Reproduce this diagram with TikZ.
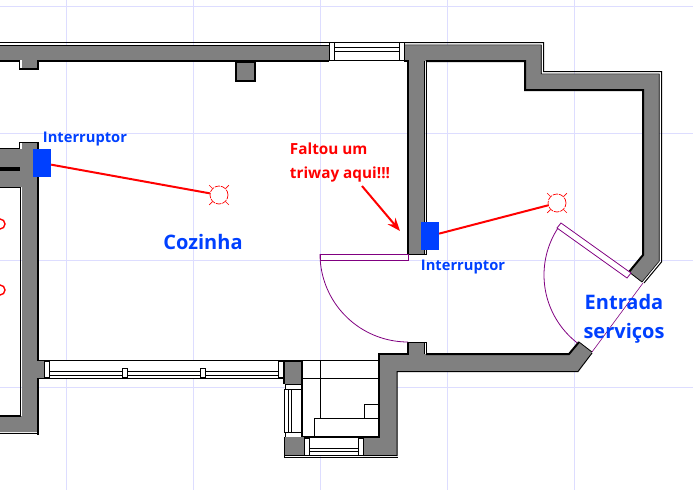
\documentclass[tikz,border=0pt]{standalone}
\usepackage{fontspec}
\setmainfont{Open Sans}
\usetikzlibrary{arrows.meta}

\definecolor{gridlila}{HTML}{DDDDFF}
\definecolor{wallgray}{HTML}{808080}
\definecolor{markblue}{HTML}{0040FF}
\definecolor{doorpurple}{HTML}{800080}

\tikzset{
  walla/.style={fill=wallgray,draw=none},
  wallthick/.style={draw=black,line width=2pt,line join=miter},
  wallthin/.style={draw=black,line width=1pt,line join=miter},
  glass/.style={draw=black,fill=white,line width=1pt},
  door/.style={draw=doorpurple,line width=0.8pt},
  switchbox/.style={fill=markblue,minimum width=18pt,minimum height=28pt,inner sep=0pt},
  lamp/.style={circle,draw=red,line width=0.7pt,dash pattern=on 5.5pt off 1pt,minimum size=18pt,inner sep=0pt},
  wire/.style={draw=red,line width=2pt},
  bluesmall/.style={text=markblue,font=\bfseries\fontsize{14.7}{16}\selectfont},
  bluebig/.style={text=markblue,font=\bfseries\fontsize{20}{29}\selectfont,align=center},
  redsmall/.style={text=red,font=\bfseries\fontsize{15.3}{24}\selectfont,align=left}
}

\begin{document}
\begin{tikzpicture}[x=1pt,y=-1pt]
  \useasboundingbox (0,0) rectangle (693,490);
  \clip (0,0) rectangle (693,490);
  % grid
  \foreach \gx in {66,193,320,447,574}
    \draw[gridlila,line width=1pt] (\gx,0) -- (\gx,490);
  \foreach \gy in {6,133,260,387}
    \draw[gridlila,line width=1pt] (0,\gy) -- (693,\gy);

  % walls, top and left
  \path[walla] (0,45) rectangle (329,60);
  \path[walla] (22,60) rectangle (38,68);
  \path[walla] (236,62) rectangle (255,81);
  \path[walla] (0,149) -- (22,149) -- (22,143) -- (38,143) -- (38,432) -- (0,432) -- (0,416)
    -- (22,416) -- (22,187) -- (0,187) -- cycle;
  \draw[wallthin] (0,42.5) -- (329,42.5);
  \draw[line width=0.6pt] (0,44.8) -- (329,44.8);
  \draw[wallthick] (0,61) -- (20,61);
  \draw[wallthick] (38,61) -- (329,61);
  \draw[wallthin] (19.5,61) -- (19.5,68.5);
  \draw[wallthick] (19,69) -- (38,69) -- (38,60);
  \draw[wallthick] (236,62) -- (236,81) -- (255,81) -- (255,62) -- cycle;
  \draw[wallthin] (0,148.5) -- (19.5,148.5) -- (19.5,142.5) -- (38,142.5);
  \draw[wallthick] (38,142) -- (38,361);
  \draw[wallthick] (38,378) -- (38,435);
  \fill[black] (0,167) rectangle (20,171);
  \draw[wallthin] (0,187.5) -- (20.5,187.5) -- (20.5,416);
  \draw[wallthick] (0,416) -- (21,416);
  \draw[wallthin] (0,433.5) -- (38,433.5);

  % walls, right side
  \path[walla] (404,45) -- (541.5,45) -- (541.5,74) -- (659,74) -- (659,261) -- (642,282)
    -- (629,272) -- (643,255) -- (643,90) -- (525,90) -- (525,61) -- (425,61) -- (425,254)
    -- (408,254) -- (408,61) -- (404,61) -- cycle;
  \draw[wallthin] (404,42.5) -- (543.5,42.5) -- (543.5,71.5) -- (661.5,71.5) -- (661.5,262) -- (644,283);
  \draw[line width=0.6pt] (404,44.8) -- (541.2,44.8) -- (541.2,73.8) -- (659.2,73.8) -- (659.2,261.2) -- (642,282);
  \draw[wallthick] (426,61) -- (525,61) -- (525,90) -- (643,90) -- (643,255) -- (629,272);
  \draw[line width=0.8pt] (629,272) -- (642,282);
  \draw[wallthick] (404,61) -- (408,61) -- (408,254);
  \draw[line width=0.7pt] (424.5,61) -- (424.5,254);
  \draw[wallthin] (426.5,61) -- (426.5,254.5) -- (408,254.5);

  % walls, bottom
  \path[walla] (397,371) -- (578,371) -- (592,352) -- (579,342) -- (569,354) -- (424,354)
    -- (424,342) -- (408,342) -- (408,354) -- (379,354) -- (379,437) -- (363,437) -- (363,456)
    -- (397,456) -- cycle;
  \draw[wallthick] (426,354) -- (569,354) -- (579,342);
  \draw[wallthin] (426.5,354) -- (426.5,342.5) -- (408,342.5);
  \draw[line width=0.7pt] (424.5,354) -- (424.5,342);
  \draw[wallthick] (408,342) -- (408,354) -- (379,354) -- (379,437) -- (302,437);
  \draw[line width=0.8pt] (579,342) -- (592,352);
  \draw[wallthin] (397,456) -- (397,371.5) -- (578,371.5) -- (592,353);
  \path[walla] (37,361) rectangle (44,379);
  \draw[line width=1.5pt] (37,360.5) -- (44,360.5);
  \draw[line width=1.5pt] (37,378.5) -- (44,378.5);

  % top window
  \draw[glass] (329,42.5) rectangle (404,60.5);
  \draw[wallthin] (334,47.5) -- (399,47.5);
  \draw[wallthin] (334,51.5) -- (399,51.5);
  \draw[glass] (329.5,42.5) rectangle (334.5,60.5);
  \draw[glass] (399.5,42.5) rectangle (404.5,60.5);

  % bottom window of the kitchen
  \draw[glass] (44,360.5) rectangle (284,378.5);
  \draw[wallthin] (49,371.5) -- (278,371.5);
  \draw[wallthin] (49,375.5) -- (278,375.5);
  \draw[glass] (44.5,361.5) rectangle (49.5,377.5);
  \draw[glass] (278.5,361.5) rectangle (283.5,377.5);
  \draw[glass] (122.5,368.5) rectangle (127.5,377.5);
  \draw[glass] (200.5,368.5) rectangle (205.5,377.5);

  % stair corner
  \fill[white] (303,362) rectangle (378,436);
  \draw[line width=1pt] (302,360.5) -- (379,360.5);
  \draw[line width=1pt] (302,378.5) -- (379,378.5);
  \draw[line width=1pt] (320.5,361) -- (320.5,418);
  \draw[line width=1pt] (314.5,437) -- (314.5,418.5) -- (379,418.5);
  \draw[line width=1pt] (364.5,418) -- (364.5,404.5) -- (379,404.5);

  % piers and side window
  \path[walla] (284,361) rectangle (302,384);
  \draw[wallthick] (284,384) -- (284,361) -- (302,361) -- (302,437);
  \draw[glass] (284.5,389) rectangle (301.5,432);
  \draw[wallthin] (288.5,389) -- (288.5,432);
  \draw[wallthin] (291.5,389) -- (291.5,432);
  \draw[glass] (285.5,384.5) rectangle (301.5,389.5);
  \draw[glass] (285.5,432.5) rectangle (301.5,437);
  \path[walla] (284,437) rectangle (304,455);
  \fill[white] (304,438) rectangle (363,456);
  \draw[wallthin] (309,448.5) -- (358,448.5);
  \draw[wallthin] (309,451.5) -- (358,451.5);
  \draw[glass] (304.5,438) rectangle (309.5,455.5);
  \draw[glass] (358.5,438) rectangle (363.5,455.5);
  \draw[wallthin] (284,437) -- (284,457.5) -- (397.5,457.5);
  \draw[line width=0.7pt] (284,455.5) -- (397,455.5);

  % doors
  \draw[door,line width=1pt,fill=white] (320.5,254.5) rectangle (408,260.5);
  \draw[door] plot[domain=90:180,samples=40] ({408+88*cos(\x)},{254+88*sin(\x)});
  \draw[door,fill=white] (561,223) -- (557,228) -- (627,278) -- (631,273) -- cycle;
  \draw[door] plot[domain=128:213,samples=40] ({630+86*cos(\x)},{275+86*sin(\x)});
  \draw[door,line width=0.6pt] (643,283) -- (592,352);

  % lamps cut by the border
  \draw[red,line width=1.4pt] (0,224) circle (5);
  \draw[red,line width=1.4pt] (0,290) circle (5);

  % switches, lamps, wires
  \node[switchbox] (switchA) at (42,163) {};
  \node[switchbox] (switchB) at (430,236) {};
  \node[lamp] (lampA) at (219,195) {};
  \node[lamp] (lampB) at (557,203) {};
  \foreach \lname in {lampA,lampB}
    \foreach \ang in {45,135,225,315}
      \draw[red,line width=0.7pt] (\lname.\ang) -- ++({4.5*cos(\ang)},{-4.5*sin(\ang)});
  \draw[wire] (switchA) -- (lampA);
  \draw[wire] (switchB) -- (lampB);

  % labels
  \node[bluesmall] (labelA) at (85,139) {Interruptor};
  \node[bluesmall] (labelB) at (463,267) {Interruptor};
  \node[bluebig] (labelCozinha) at (203,242) {Cozinha};
  \node[bluebig] (labelEntrada) at (624,319) {Entrada\\serviços};
  \node[redsmall] (labelFalta) at (340,163) {Faltou um\\triway aqui!!!};
  \coordinate (arrowTip) at (400,231);
  \draw[wire,-{Stealth[length=13pt,width=10pt]}] (362,186) -- (arrowTip);
\end{tikzpicture}
\end{document}
